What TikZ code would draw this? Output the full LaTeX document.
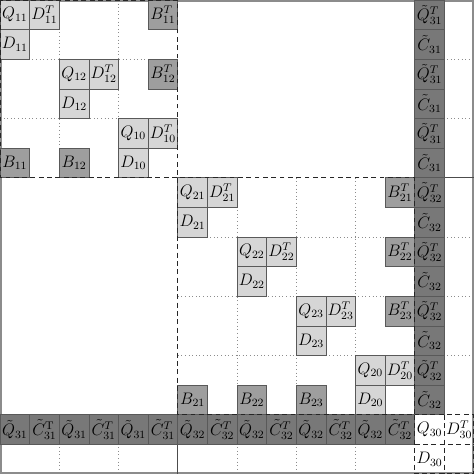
\documentclass[tikz,border=0pt]{standalone}
\usepackage{amsmath}
\usepackage{amssymb}
\usepackage{tikz}
\tikzset{
	light box/.style={draw=black!65, line width=0.5pt, fill=black!16},
	coupling box/.style={draw=black!65, line width=0.5pt, fill=black!38},
	tilde box/.style={draw=black!65, line width=0.5pt, fill=black!53},
	open box/.style={draw=none},
	cell label/.style={inner sep=0pt, font=\fontsize{11.5}{13}\selectfont},
	sub grid/.style={black!45, dotted, line width=0.6pt},
	block edge/.style={black!85, dash pattern=on 3.5pt off 2.5pt, line width=0.8pt},
}
% style, name, column, row, label
\newcommand{\blockcell}[5]{%
	\path[#1] (#3,-#4) rectangle ++(1,-1);
	\node[cell label] (#2) at (#3+0.5,-#4-0.5) {#5};
}
\begin{document}
\begin{tikzpicture}[x=0.75cm,y=0.75cm]
	\useasboundingbox (0,0) rectangle (16,-16);
	\draw[black!45, line width=2.4pt] (0,0) rectangle (16,-16);
	%
	\foreach \p in {2,4} {
		\draw[sub grid] (\p,0) -- (\p,-6);
		\draw[sub grid] (0,-\p) -- (6,-\p);
		\draw[sub grid] (\p,-14) -- (\p,-16);
		\draw[sub grid] (14,-\p) -- (16,-\p);
	}
	\foreach \p in {8,10,12} {
		\draw[sub grid] (\p,-6) -- (\p,-14);
		\draw[sub grid] (6,-\p) -- (14,-\p);
		\draw[sub grid] (\p,-14) -- (\p,-16);
		\draw[sub grid] (14,-\p) -- (16,-\p);
	}
	\draw[black!70] (14,-6) -- (16,-6);
	\draw[black!70] (6,-14) -- (6,-16);
	%
	\blockcell{light box}{q11}{0}{0}{$Q_{11}$}
	\blockcell{light box}{d11t}{1}{0}{$D_{11}^T$}
	\blockcell{light box}{d11}{0}{1}{$D_{11}$}
	\blockcell{coupling box}{b11t}{5}{0}{$B_{11}^T$}
	\blockcell{light box}{q12}{2}{2}{$Q_{12}$}
	\blockcell{light box}{d12t}{3}{2}{$D_{12}^T$}
	\blockcell{light box}{d12}{2}{3}{$D_{12}$}
	\blockcell{coupling box}{b12t}{5}{2}{$B_{12}^T$}
	\blockcell{light box}{q10}{4}{4}{$Q_{10}$}
	\blockcell{light box}{d10t}{5}{4}{$D_{10}^T$}
	\blockcell{light box}{d10}{4}{5}{$D_{10}$}
	\blockcell{coupling box}{b11}{0}{5}{$B_{11}$}
	\blockcell{coupling box}{b12}{2}{5}{$B_{12}$}
	%
	\blockcell{light box}{q21}{6}{6}{$Q_{21}$}
	\blockcell{light box}{d21t}{7}{6}{$D_{21}^T$}
	\blockcell{light box}{d21}{6}{7}{$D_{21}$}
	\blockcell{coupling box}{b21t}{13}{6}{$B_{21}^T$}
	\blockcell{light box}{q22}{8}{8}{$Q_{22}$}
	\blockcell{light box}{d22t}{9}{8}{$D_{22}^T$}
	\blockcell{light box}{d22}{8}{9}{$D_{22}$}
	\blockcell{coupling box}{b22t}{13}{8}{$B_{22}^T$}
	\blockcell{light box}{q23}{10}{10}{$Q_{23}$}
	\blockcell{light box}{d23t}{11}{10}{$D_{23}^T$}
	\blockcell{light box}{d23}{10}{11}{$D_{23}$}
	\blockcell{coupling box}{b23t}{13}{10}{$B_{23}^T$}
	\blockcell{light box}{q20}{12}{12}{$Q_{20}$}
	\blockcell{light box}{d20t}{13}{12}{$D_{20}^T$}
	\blockcell{light box}{d20}{12}{13}{$D_{20}$}
	\blockcell{coupling box}{b21}{6}{13}{$B_{21}$}
	\blockcell{coupling box}{b22}{8}{13}{$B_{22}$}
	\blockcell{coupling box}{b23}{10}{13}{$B_{23}$}
	%
	\foreach \r/\k in {0/1,2/1,4/1,6/2,8/2,10/2,12/2} {
		\pgfmathtruncatemacro{\s}{\r+1}
		\blockcell{tilde box}{qr\r}{14}{\r}{$\tilde{Q}_{3\k}^T$}
		\blockcell{tilde box}{cr\r}{14}{\s}{$\tilde{C}_{3\k}$}
	}
	\blockcell{tilde box}{qb0}{0}{14}{$\tilde{Q}_{31}$}
	\blockcell{tilde box}{cb0}{1}{14}{$\tilde{C}_{31}^{\mathrm{T}}$}
	\foreach \c/\k in {2/1,4/1,6/2,8/2,10/2,12/2} {
		\pgfmathtruncatemacro{\d}{\c+1}
		\blockcell{tilde box}{qb\c}{\c}{14}{$\tilde{Q}_{3\k}$}
		\blockcell{tilde box}{cb\c}{\d}{14}{$\tilde{C}_{3\k}^T$}
	}
	%
	\blockcell{open box}{q30}{14}{14}{$Q_{30}$}
	\blockcell{open box}{d30t}{15}{14}{$D_{30}^T$}
	\blockcell{open box}{d30}{14}{15}{$D_{30}$}
	%
	\draw[block edge] (0,0) rectangle (6,-6);
	\draw[block edge] (6,-6) rectangle (14,-14);
	\draw[block edge] (14,-14) rectangle (16,-16);
	\draw[block edge] (15,-14) -- (15,-16);
	\draw[block edge] (14,-15) -- (16,-15);
\end{tikzpicture}
\end{document}
